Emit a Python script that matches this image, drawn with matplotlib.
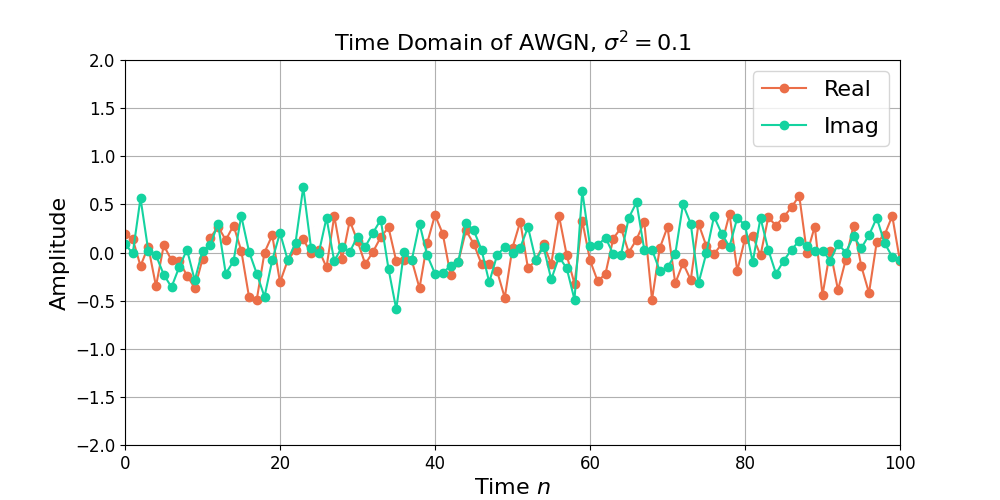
import numpy as np
import matplotlib
matplotlib.use("Agg")
import matplotlib.pyplot as plt

n = np.arange(101)

real = [0.19, 0.14, -0.14, 0.06, -0.35, 0.075, -0.08, -0.09, -0.24, -0.37,
        -0.07, 0.15, 0.27, 0.13, 0.28, 0.02, -0.46, -0.49, 0.0, 0.18,
        -0.31, -0.08, 0.03, 0.14, -0.01, 0.03, -0.155, 0.38, -0.07, 0.33,
        0.12, -0.12, 0.007, 0.16, 0.26, -0.09, -0.08, -0.08, -0.37, 0.10,
        0.39, 0.195, -0.23, -0.10, 0.23, 0.09, -0.12, -0.12, -0.19, -0.47,
        0.05, 0.32, -0.165, -0.08, 0.085, -0.12, 0.38, -0.03, -0.325, 0.33,
        -0.08, -0.30, -0.22, 0.145, 0.255, 0.0, 0.135, 0.32, -0.49, 0.045,
        0.265, -0.32, -0.11, -0.285, 0.30, 0.07, -0.017, 0.09, 0.40, -0.19,
        0.145, 0.17, -0.03, 0.365, 0.28, 0.37, 0.47, 0.59, -0.01, 0.27,
        -0.44, 0.02, -0.39, -0.075, 0.28, -0.14, -0.42, 0.11, 0.18, 0.38,
        -0.09]

imag = [0.09, -0.01, 0.565, 0.02, -0.03, -0.23, -0.36, -0.15, 0.03, -0.29,
        0.02, 0.075, 0.30, -0.22, -0.09, 0.38, 0.01, -0.22, -0.46, -0.08,
        0.205, -0.08, 0.10, 0.68, 0.05, -0.007, 0.36, -0.09, 0.06, 0.007,
        0.165, 0.06, 0.205, 0.34, -0.17, -0.59, 0.007, -0.08, 0.30, -0.03,
        -0.22, -0.21, -0.14, -0.10, 0.31, 0.23, 0.03, -0.31, -0.03, 0.06,
        0.0, 0.05, 0.265, -0.08, 0.06, -0.28, -0.045, -0.165, -0.49, 0.64,
        0.07, 0.075, 0.155, -0.017, -0.027, 0.36, 0.52, 0.03, 0.03, -0.19,
        -0.155, -0.017, 0.50, 0.30, -0.32, -0.01, 0.375, 0.195, 0.06, 0.36,
        0.285, -0.10, 0.36, 0.03, -0.22, -0.085, 0.03, 0.12, 0.07, 0.02,
        0.02, -0.085, 0.09, 0.0, 0.17, 0.045, 0.18, 0.36, 0.10, -0.045,
        -0.08]

fig, ax = plt.subplots(figsize=(10, 5), dpi=100)
ax.plot(n, real, "o-", color="#EB6E48", label="Real")
ax.plot(n, imag, "o-", color="#14D3A0", label="Imag")
ax.set_xlim(0, 100)
ax.set_ylim(-2, 2)
ax.grid(True)
ax.set_title(r"Time Domain of AWGN, $\sigma^2 = 0.1$", fontsize=16)
ax.set_xlabel(r"Time $n$", fontsize=16)
ax.set_ylabel("Amplitude", fontsize=16)
ax.tick_params(labelsize=12)
ax.legend(loc="upper right", fontsize=16, labelspacing=0.75)
fig.savefig("out.png")
